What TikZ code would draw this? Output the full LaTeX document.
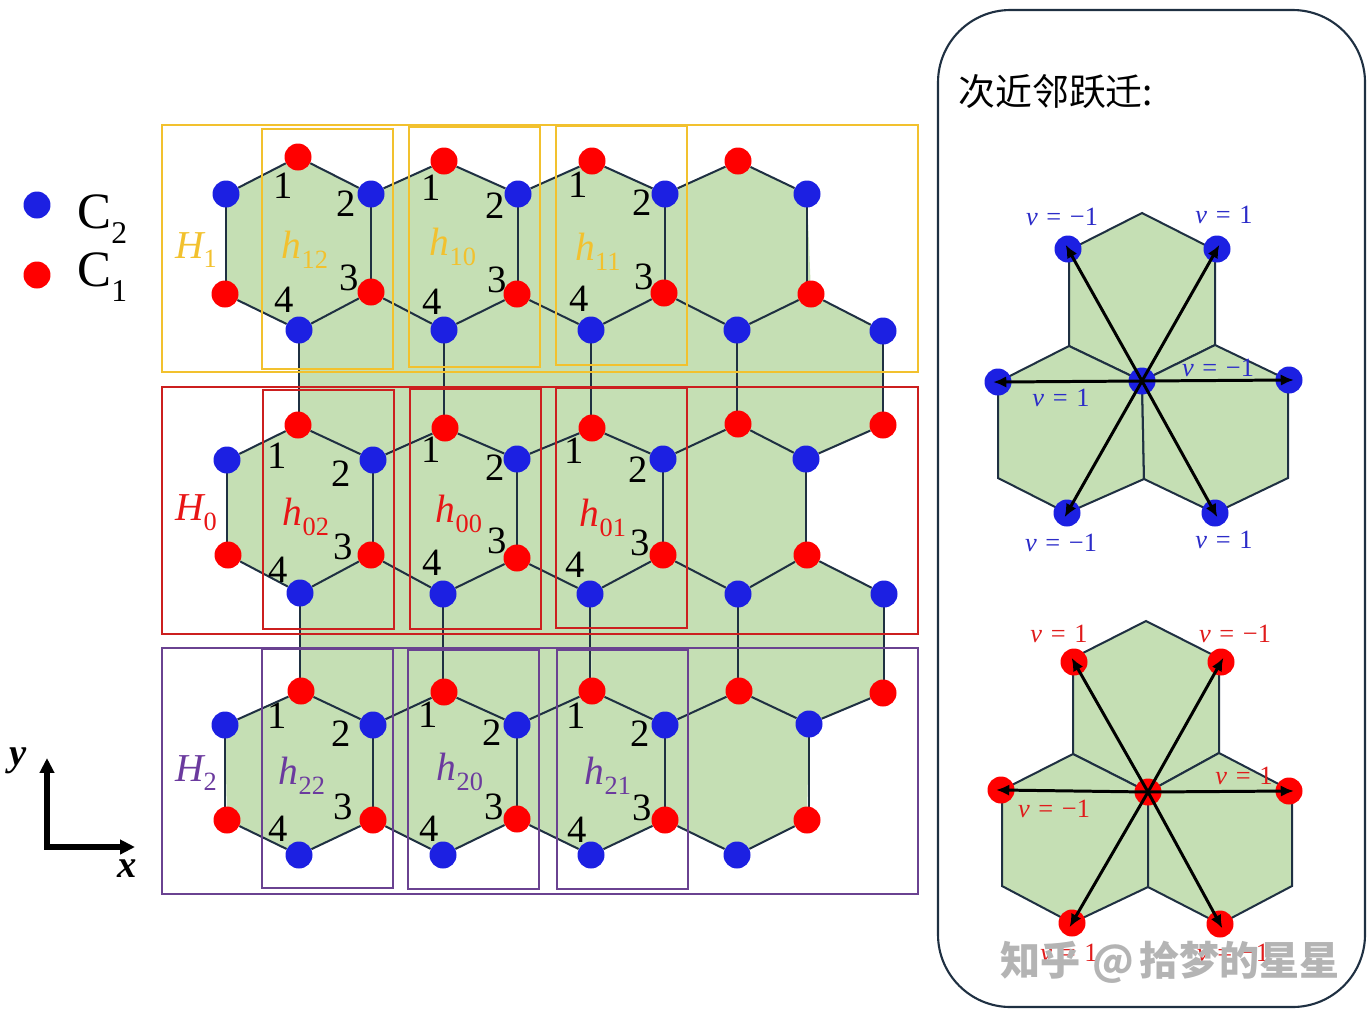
\documentclass[tikz,border=0pt]{standalone}
\usepackage[no-math]{fontspec}
\usetikzlibrary{arrows.meta}
\newfontfamily\timesf{Liberation Serif}
\newfontfamily\cjkf{Noto Sans CJK SC}
\definecolor{cblue}{HTML}{1C20E2}
\definecolor{cred}{HTML}{FF0000}
\definecolor{hexgreen}{HTML}{C5DFB4}
\definecolor{edgecol}{HTML}{1F3042}
\definecolor{cgold}{HTML}{F2C12E}
\definecolor{cfred}{HTML}{CC1F1F}
\definecolor{cpurple}{HTML}{6A4291}
\definecolor{tgold}{HTML}{F2C12E}
\definecolor{tred}{HTML}{E81515}
\definecolor{tpurple}{HTML}{6B3A9E}
\definecolor{lblue}{HTML}{2B2BC8}
\definecolor{lred}{HTML}{E01B1B}
\definecolor{wmark}{HTML}{B4B4B4}
\pgfdeclarelayer{bg}
\pgfdeclarelayer{frames}
\pgfsetlayers{bg,frames,main}
\newcommand{\blockname}[2]{{\itshape #1}\raisebox{-0.25em}{\fontsize{15}{17}\selectfont\upshape #2}}
\newcommand{\vval}[1]{{\itshape v}\hspace{0.33em}=\hspace{0.33em}#1}
\tikzset{
  dot/.style={circle,draw=none,inner sep=0pt,minimum size=0.54cm},
  hexedge/.style={draw=edgecol,line width=1.15pt},
  hexfill/.style={fill=hexgreen,draw=none},
  frame/.style={line width=1.4pt},
  numlabel/.style={inner sep=0pt,font=\timesf\fontsize{22}{24}\selectfont,text=black},
  bigmath/.style={inner sep=0pt,font=\timesf\fontsize{22.5}{26}\selectfont},
  vlabel/.style={inner sep=0pt,font=\timesf\fontsize{15}{17}\selectfont},
  hop/.style={draw=black,line width=1.7pt,-{Latex[length=7.5pt,width=6.5pt]},shorten >=-2.8pt},
  axisline/.style={draw=black,line width=2.9pt,{Triangle[length=8.5pt,width=8pt]}-{Triangle[length=8.5pt,width=8pt]}},
}
\begin{document}
\begin{tikzpicture}[x=0.02cm,y=-0.02cm]
\useasboundingbox (0,0) rectangle (1372,1018);

% lattice sites
\foreach \ro/\colr/\pts in {
  1/cred/{298/157,444/161,592/161,738/161},
  2/cblue/{226/194,371/194,518/194,665/194,807/194},
  3/cred/{225/294,371/292,517/294,664/293,811/294},
  4/cblue/{299/330,444/330,591/330,737/330,883/331},
  5/cred/{298/425,445/428,592/428,738/424,883/425},
  6/cblue/{227/460,373/460,517/459,663/459,806/459},
  7/cred/{228/555,371/555,517/558,663/555,807/555},
  8/cblue/{300/593,443/594,590/594,738/594,884/594},
  9/cred/{301/691,444/692,592/691,739/691,883/693},
  10/cblue/{225/725,373/725,517/725,665/725,809/724},
  11/cred/{227/820,373/820,517/819,665/820,807/820},
  12/cblue/{299/855,443/855,591/855,737/855}}{
  \foreach \px/\py [count=\cc] in \pts {
    \node[dot,fill=\colr] (n\ro-\cc) at (\px,\py) {};
  }
}

\begin{pgfonlayer}{bg}
  % hexagon fills
  \foreach \ra/\rb/\rc/\rd in {1/2/3/4,5/6/7/8,9/10/11/12}{
    \foreach \cc [evaluate=\cc as \dd using int(\cc+1)] in {1,...,4}{
      \fill[hexfill] (n\ra-\cc.center) -- (n\rb-\dd.center) -- (n\rc-\dd.center) -- (n\rd-\cc.center) -- (n\rc-\cc.center) -- (n\rb-\cc.center) -- cycle;
    }
  }
  \foreach \ra/\rb/\rc/\rd in {3/4/5/6,7/8/9/10}{
    \foreach \cc [evaluate=\cc as \dd using int(\cc+1)] in {1,...,4}{
      \fill[hexfill] (n\ra-\dd.center) -- (n\rb-\dd.center) -- (n\rc-\dd.center) -- (n\rd-\dd.center) -- (n\rc-\cc.center) -- (n\rb-\cc.center) -- cycle;
    }
  }
  % edges: zig-zag rows
  \foreach \ra/\rb/\last in {1/2/4,3/4/5,5/6/5,7/8/5,9/10/5,11/12/4}{
    \foreach \cc in {1,...,\last}{
      \draw[hexedge] (n\ra-\cc) -- (n\rb-\cc);
    }
    \foreach \cc [evaluate=\cc as \dd using int(\cc+1)] in {1,...,4}{
      \ifnum\ra=3 \draw[hexedge] (n\rb-\cc) -- (n\ra-\dd);
      \else\ifnum\ra=7 \draw[hexedge] (n\rb-\cc) -- (n\ra-\dd);
      \else\ifnum\ra=11 \draw[hexedge] (n\rb-\cc) -- (n\ra-\dd);
      \else \draw[hexedge] (n\ra-\cc) -- (n\rb-\dd);
      \fi\fi\fi
    }
  }
  % edges: vertical (kept truly vertical, as in the picture)
  \foreach \ra/\rb in {2/3,4/5,6/7,8/9,10/11}{
    \foreach \cc in {1,...,5}{
      \draw[hexedge] (n\ra-\cc.center) -- (n\ra-\cc.center |- n\rb-\cc.center);
    }
  }
\end{pgfonlayer}

\begin{pgfonlayer}{frames}
  \draw[frame,cgold] (162,125) rectangle (918,372);
  \draw[frame,cgold] (262,129) rectangle (393,369);
  \draw[frame,cgold] (409,127) rectangle (540,367);
  \draw[frame,cgold,line width=0.9pt] (556,126) rectangle (687,365);
  \draw[frame,cfred] (162,387) rectangle (918,634);
  \draw[frame,cfred] (263,390) rectangle (394,629);
  \draw[frame,cfred] (410,389) rectangle (541,629);
  \draw[frame,cfred] (556,388) rectangle (687,628);
  \draw[frame,cpurple] (162,648) rectangle (918,894);
  \draw[frame,cpurple] (262,649) rectangle (393,888);
  \draw[frame,cpurple] (408,650) rectangle (539,889);
  \draw[frame,cpurple] (557,650) rectangle (688,889);
\end{pgfonlayer}

% site numbers
\foreach \num/\px/\py [count=\k] in {
  1/283/186,2/346/204,3/349/278,4/284/300,
  1/431/188,2/495/206,3/497/280,4/432/302,
  1/578/185,2/642/203,3/644/277,4/579/299,
  1/277/456,2/341/474,3/343/547,4/278/570,
  1/431/450,2/495/468,3/497/541,4/432/563,
  1/574/451,2/638/470,3/640/543,4/575/565,
  1/277/716,2/341/734,3/343/807,4/278/829,
  1/428/715,2/492/733,3/494/807,4/429/829,
  1/576/716,2/640/734,3/642/808,4/577/830}{
  \node[numlabel] (num\k) at (\px,\py) {\num};
}

% block labels
\node[bigmath,text=tgold] (H1) at (196,250) {\blockname{H}{1}};
\node[bigmath,text=tgold] (h12) at (305,250) {\blockname{h}{12}};
\node[bigmath,text=tgold] (h10) at (453,247) {\blockname{h}{10}};
\node[bigmath,text=tgold] (h11) at (598,252) {\blockname{h}{11}};
\node[bigmath,text=tred] (H0) at (196,513) {\blockname{H}{0}};
\node[bigmath,text=tred] (h02) at (306,517) {\blockname{h}{02}};
\node[bigmath,text=tred] (h00) at (459,514) {\blockname{h}{00}};
\node[bigmath,text=tred] (h01) at (603,518) {\blockname{h}{01}};
\node[bigmath,text=tpurple] (H2) at (196,773) {\blockname{H}{2}};
\node[bigmath,text=tpurple] (h22) at (302,776) {\blockname{h}{22}};
\node[bigmath,text=tpurple] (h20) at (460,772) {\blockname{h}{20}};
\node[bigmath,text=tpurple] (h21) at (608,776) {\blockname{h}{21}};

% legend
\node[dot,fill=cblue] (legb) at (37,205) {};
\node[dot,fill=cred] (legr) at (37,275) {};
\node[anchor=west,inner sep=0pt,font=\timesf\fontsize{29}{32}\selectfont] (legC2) at (77,219) {C\raisebox{-0.28em}{\fontsize{18}{20}\selectfont 2}};
\node[anchor=west,inner sep=0pt,font=\timesf\fontsize{29}{32}\selectfont] (legC1) at (77,277) {C\raisebox{-0.28em}{\fontsize{18}{20}\selectfont 1}};

% axes
\coordinate (axo) at (47,847);
\coordinate (axx) at (135,847);
\coordinate (axy) at (47,758);
\draw[axisline] (axy) -- (axo) -- (axx);
\node[inner sep=0pt,font=\timesf\bfseries\itshape\fontsize{22}{24}\selectfont] (laby) at (18,761) {y};
\node[inner sep=0pt,font=\timesf\bfseries\itshape\fontsize{22}{24}\selectfont] (labx) at (127,869) {x};

% right panel
\draw[draw=edgecol,line width=1.2pt,rounded corners=1.45cm] (938,10) rectangle (1365,1007);
\node[anchor=west,inner sep=0pt,font=\cjkf\fontsize{21}{24}\selectfont] (title) at (958,92) {次近邻跃迁:};

% upper cluster (C2)
\node[dot,fill=cblue] (tc) at (1142,381) {};
\node[dot,fill=cblue] (tul) at (1068,249) {};
\node[dot,fill=cblue] (tur) at (1217,249) {};
\node[dot,fill=cblue] (tl) at (998,382) {};
\node[dot,fill=cblue] (tr) at (1289,380) {};
\node[dot,fill=cblue] (tll) at (1067,513) {};
\node[dot,fill=cblue] (tlr) at (1215,513) {};
\coordinate (ttop) at (1142,213);
\coordinate (tvul) at (1069,250);
\coordinate (tvur) at (1215,250);
\coordinate (tvr) at (1288,380);
\coordinate (tv1) at (1215,345);
\coordinate (tv2) at (1069,346);
\coordinate (tv3) at (998,478);
\coordinate (tv4) at (1144,479);
\coordinate (tv5) at (1288,478);
\begin{pgfonlayer}{bg}
  \draw[hexedge,fill=hexgreen] (ttop) -- (tvur) -- (tv1) -- (tc.center) -- (tv2) -- (tvul) -- cycle;
  \draw[hexedge,fill=hexgreen] (tv2) -- (tl.center) -- (tv3) -- (tll.center) -- (tv4) -- (tc.center) -- cycle;
  \draw[hexedge,fill=hexgreen] (tv1) -- (tvr) -- (tv5) -- (tlr.center) -- (tv4) -- (tc.center) -- cycle;
\end{pgfonlayer}
\foreach \tg in {tul,tur,tl,tr,tll,tlr}{
  \draw[hop] (tc.center) -- (\tg.center);
}
\node[vlabel,text=lblue] (v1) at (1062,217) {\vval{−1}};
\node[vlabel,text=lblue] (v2) at (1224,215) {\vval{1}};
\node[vlabel,text=lblue] (v3) at (1218,368) {\vval{−1}};
\node[vlabel,text=lblue] (v4) at (1061,398) {\vval{1}};
\node[vlabel,text=lblue] (v5) at (1061,543) {\vval{−1}};
\node[vlabel,text=lblue] (v6) at (1224,540) {\vval{1}};

% lower cluster (C1)
\node[dot,fill=cred] (bc) at (1148,792) {};
\node[dot,fill=cred] (bul) at (1074,662) {};
\node[dot,fill=cred] (bur) at (1221,662) {};
\node[dot,fill=cred] (bl) at (1001,790) {};
\node[dot,fill=cred] (br) at (1289,791) {};
\node[dot,fill=cred] (bll) at (1072,923) {};
\node[dot,fill=cred] (blr) at (1220,924) {};
\coordinate (btop) at (1146,621);
\coordinate (bvul) at (1073,658);
\coordinate (bvur) at (1219,658);
\coordinate (bv1) at (1219,753);
\coordinate (bv2) at (1073,754);
\coordinate (bv3) at (1002,886);
\coordinate (bv4) at (1148,887);
\coordinate (bv5) at (1292,886);
\coordinate (bvl) at (1002,790);
\coordinate (bvr) at (1292,791);
\begin{pgfonlayer}{bg}
  \draw[hexedge,fill=hexgreen] (btop) -- (bvur) -- (bv1) -- (bc.center) -- (bv2) -- (bvul) -- cycle;
  \draw[hexedge,fill=hexgreen] (bv2) -- (bvl) -- (bv3) -- (bll.center) -- (bv4) -- (bc.center) -- cycle;
  \draw[hexedge,fill=hexgreen] (bv1) -- (bvr) -- (bv5) -- (blr.center) -- (bv4) -- (bc.center) -- cycle;
\end{pgfonlayer}
\foreach \tg in {bul,bur,bl,br,bll,blr}{
  \draw[hop] (bc.center) -- (\tg.center);
}
\node[vlabel,text=lred] (v7) at (1059,634) {\vval{1}};
\node[vlabel,text=lred] (v8) at (1235,634) {\vval{−1}};
\node[vlabel,text=lred] (v9) at (1244,776) {\vval{1}};
\node[vlabel,text=lred] (v10) at (1054,809) {\vval{−1}};
\node[vlabel,text=lred] (v11) at (1069,953) {\vval{1}};
\node[vlabel,text=lred] (v12) at (1233,953) {\vval{−1}};

% watermark
\node[anchor=west,inner sep=0pt,text=wmark,font=\cjkf\bfseries\fontsize{22.8}{26}\selectfont] (wm) at (1000,962) {知乎\hspace{7pt}@\hspace{3pt}拾梦的星星};
\end{tikzpicture}
\end{document}
